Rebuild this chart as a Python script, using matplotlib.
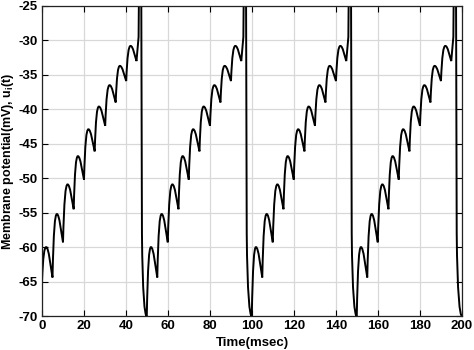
import matplotlib
matplotlib.use("Agg")
import matplotlib.pyplot as plt
from matplotlib.path import Path
from matplotlib.patches import PathPatch

plt.rcParams['font.family'] = 'Liberation Sans'
plt.rcParams['font.weight'] = 'bold'
plt.rcParams['axes.unicode_minus'] = False
plt.rcParams['mathtext.fontset'] = 'custom'
plt.rcParams['mathtext.bf'] = 'Liberation Sans:bold'
plt.rcParams['mathtext.rm'] = 'Liberation Sans:bold'
plt.rcParams['mathtext.it'] = 'Liberation Sans:bold'
plt.rcParams['mathtext.default'] = 'bf'

# cycle start times (membrane reset) and start values
cycle_t = [0.0, 49.9, 99.9, 149.9]
cycle_v = [-65.0, -70.0, -70.0, -70.0]
cycle_end = 200.0

# EPSP peaks and dips within one firing cycle (time relative to cycle start)
peak_t = [2.0, 7.1, 12.2, 17.1, 22.1, 27.1, 32.2, 37.1, 42.2]
peak_v = [-60.0, -55.2, -50.9, -46.8, -42.9, -39.6, -36.5, -33.7, -30.8]
dip_t = [5.0, 10.0, 15.1, 20.0, 25.1, 30.1, 35.1, 40.1, 45.0]
dip_v = [-64.4, -59.3, -54.5, -50.2, -46.1, -42.4, -39.0, -35.9, -33.0]

# spike: threshold point, upstroke/downstroke times and reset knee
thr_t, thr_v = 46.0, -29.5
up_t, down_t = 46.4, 47.2
knee_t, knee_v = 47.6, -58.0
spike_top = -15.0

verts, codes = [], []
for k, o in enumerate(cycle_t):
    nxt = cycle_t[k + 1] if k + 1 < len(cycle_t) else cycle_end
    t0, v0 = o, cycle_v[k]
    verts.append((t0, v0)); codes.append(Path.MOVETO if k == 0 else Path.LINETO)
    for tp, vp, td, vd in zip(peak_t, peak_v, dip_t, dip_v):
        tp += o; td += o
        # fast rise to a rounded peak
        verts += [(t0 + 0.25 * (tp - t0), v0 + 0.75 * (vp - v0)),
                  (tp - 0.45 * (tp - t0), vp), (tp, vp)]
        codes += [Path.CURVE4] * 3
        # decay to the next input
        verts += [(tp + 0.4 * (td - tp), vp),
                  (td - 0.3 * (td - tp), vd + 0.35 * (vp - vd)), (td, vd)]
        codes += [Path.CURVE4] * 3
        t0, v0 = td, vd
    verts += [(o + thr_t, thr_v), (o + up_t, spike_top), (o + down_t, spike_top),
              (o + knee_t, knee_v)]
    codes += [Path.LINETO] * 4
    verts += [(o + knee_t + 0.3, -67.0), (nxt - 1.0, -70.0), (nxt, -70.0)]
    codes += [Path.CURVE4] * 3

fig = plt.figure(figsize=(4.74, 3.5), dpi=100)
ax = fig.add_axes([0.0886, 0.097, 0.886, 0.886])
ax.add_patch(PathPatch(Path(verts, codes), fill=False, ec='black', lw=1.4))

ax.set_xlim(0, 200)
ax.set_ylim(-70, -25)
ax.set_xticks(range(0, 201, 20))
ax.set_yticks(range(-70, -24, 5))
ax.grid(True, color='#d8d8d8', lw=0.9)
ax.set_axisbelow(True)
ax.tick_params(direction='in', top=True, right=True, labelsize=9.5, length=4,
               width=0.8, pad=3)
for s in ax.spines.values():
    s.set_linewidth(0.9)
    s.set_color('#222222')

ax.set_xlabel('Time(msec)', fontsize=9.5, fontweight='bold')
ax.set_ylabel(r'Membrane potential(mV), u$_{i}$(t)', fontsize=9,
              fontweight='bold')
ax.xaxis.set_label_coords(0.5, -0.066)
ax.yaxis.set_label_coords(-0.062, 0.5)

fig.savefig('out.png', dpi=100)
